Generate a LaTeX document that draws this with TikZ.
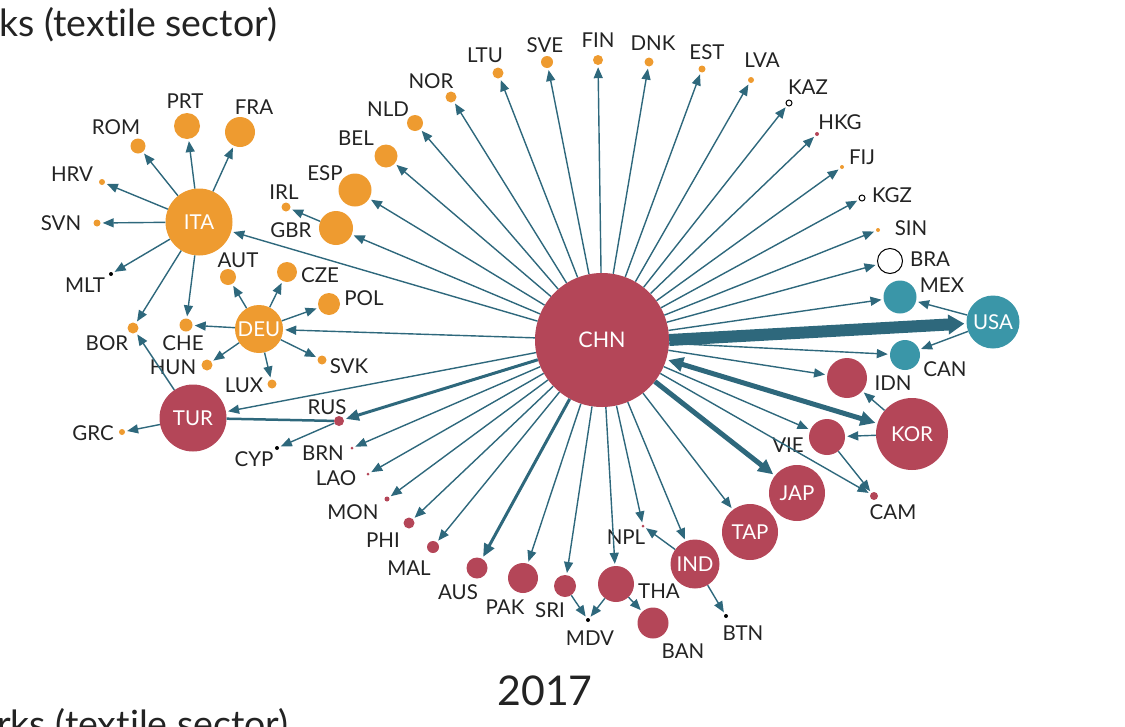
\documentclass[tikz,border=0pt]{standalone}
\usepackage{fontspec}
\setmainfont{Lato}[Ligatures=NoCommon]
\usetikzlibrary{arrows.meta}
\definecolor{orng}{RGB}{238,155,48}
\definecolor{rednode}{RGB}{180,70,88}
\definecolor{tealnode}{RGB}{58,150,168}
\definecolor{edgecol}{RGB}{46,104,124}
\definecolor{labcol}{RGB}{35,35,35}
\newcommand\labfont{\fontsize{20.5}{24}\selectfont}
\newcommand\cn[5]{\node[cnode,#2,minimum size=#4pt] (#1) at (#3) {#5};}
\newcommand\lb[2]{\node[lab] (l#1) at (#2) {#1};}
\tikzset{
  cnode/.style={circle,inner sep=0pt,draw=none,text=white,font=\labfont},
  orn/.style={fill=orng},
  red/.style={fill=rednode},
  tl/.style={fill=tealnode},
  blk/.style={fill=black},
  opn/.style={draw=black,line width=1pt,fill=white},
  lab/.style={font=\labfont,text=labcol,inner sep=0pt},
  edge/.style={draw=edgecol,line width=1.4pt,-{Triangle[length=11pt,width=9pt]},shorten >=2pt},
  thk/.style={draw=edgecol,line width=5pt,-{Triangle[length=15pt,width=14pt]},shorten >=2pt},
  mid/.style={draw=edgecol,line width=3pt,-{Triangle[length=13pt,width=11pt]},shorten >=2pt},
}
\begin{document}
\begin{tikzpicture}[x=1pt,y=-1pt]
\useasboundingbox (0,0) rectangle (1125,726);
\clip (0,0) rectangle (1125,726);
% titles
\node[font=\fontsize{37.5}{42}\selectfont,text=labcol,anchor=base west,inner sep=0pt] (title) at (-1,36) {ks (textile sector)};
\node[font=\fontsize{37.5}{42}\selectfont,text=labcol,anchor=base west,inner sep=0pt] (title2) at (-3,737) {rks (textile sector)};
\node[font=\fontsize{41}{46}\selectfont,text=labcol,inner sep=0pt] (year) at (545,691) {2017};
% big nodes
\cn{CHN}{red}{602,340}{134}{\fontsize{21.5}{24}\selectfont CHN}
\cn{ITA}{orn}{199,222}{67}{ITA}
\cn{DEU}{orn}{259,329}{48}{DEU}
\cn{TUR}{red}{193,418}{67}{TUR}
\cn{USA}{tl}{993,322}{53}{USA}
\cn{KOR}{red}{912,434}{72}{KOR}
\cn{JAP}{red}{797,493}{56}{JAP}
\cn{TAP}{red}{750,532}{56}{TAP}
\cn{IND}{red}{695,564}{49}{IND}
% small nodes
\cn{PRT}{orn}{187,126}{26}{}
\cn{FRA}{orn}{240,132}{30}{}
\cn{ROM}{orn}{138,146}{15}{}
\cn{HRV}{orn}{102,182}{6}{}
\cn{SVN}{orn}{97,223}{7}{}
\cn{MLT}{blk}{111,274}{4}{}
\cn{BOR}{orn}{133,328}{11}{}
\cn{CHE}{orn}{186,325}{13}{}
\cn{HUN}{orn}{207,365}{11}{}
\cn{LUX}{orn}{272,384}{9}{}
\cn{SVK}{orn}{322,360}{9}{}
\cn{AUT}{orn}{228,277}{16}{}
\cn{CZE}{orn}{287,272}{20}{}
\cn{POL}{orn}{329,304}{22}{}
\cn{GRC}{orn}{122,432}{6}{}
\cn{RUS}{red}{339,421}{10}{}
\cn{CYP}{blk}{277,448}{4}{}
\cn{BRN}{red}{352,448}{3}{}
\cn{LAO}{red}{368,474}{3}{}
\cn{MON}{red}{387,499}{5}{}
\cn{PHI}{red}{409,523}{11}{}
\cn{MAL}{red}{433,547}{12}{}
\cn{AUS}{red}{477,568}{21}{}
\cn{PAK}{red}{523,578}{30}{}
\cn{SRI}{red}{565,586}{22}{}
\cn{THA}{red}{616,584}{36}{}
\cn{MDV}{blk}{588,620}{4}{}
\cn{BAN}{red}{653,623}{31}{}
\cn{NPL}{red}{643,526}{3}{}
\cn{BTN}{blk}{726,616}{4}{}
\cn{CAN}{tl}{905,355}{30}{}
\cn{IDN}{red}{847,378}{40}{}
\cn{VIE}{red}{827,437}{36}{}
\cn{CAM}{red}{874,496}{8}{}
\cn{MEX}{tl}{900,297}{33}{}
\cn{BRA}{opn}{890,261}{25}{}
\cn{SIN}{orn}{878,230}{4}{}
\cn{KGZ}{opn}{862,198}{6}{}
\cn{FIJ}{orn}{842,167}{4}{}
\cn{HKG}{red}{817,134}{4}{}
\cn{KAZ}{opn}{789,103}{6}{}
\cn{LVA}{orn}{751,80}{6}{}
\cn{EST}{orn}{702,69}{7}{}
\cn{DNK}{orn}{649,62}{9}{}
\cn{FIN}{orn}{598,60}{10}{}
\cn{SVE}{orn}{547,62}{12}{}
\cn{LTU}{orn}{498,73}{11}{}
\cn{NOR}{orn}{451,97}{11}{}
\cn{NLD}{orn}{415,123}{16}{}
\cn{BEL}{orn}{386,156}{23}{}
\cn{ESP}{orn}{355,190}{33}{}
\cn{IRL}{orn}{286,207}{9}{}
\cn{GBR}{orn}{336,228}{34}{}
% labels
\lb{PRT}{185,101} \lb{FRA}{254,107} \lb{ROM}{116,127} \lb{HRV}{72,174}
\lb{SVN}{61,223} \lb{MLT}{85,285} \lb{BOR}{107,343} \lb{CHE}{183,343}
\lb{HUN}{173,367} \lb{LUX}{244,385} \lb{SVK}{349,366} \lb{AUT}{238,260}
\lb{CZE}{320,275} \lb{POL}{364,298} \lb{GRC}{93,433} \lb{RUS}{327,407}
\lb{CYP}{254,459} \lb{BRN}{323,453} \lb{LAO}{336,478} \lb{MON}{353,512}
\lb{PHI}{383,540} \lb{MAL}{409,568} \lb{AUS}{458,592} \lb{PAK}{505,607}
\lb{SRI}{550,610} \lb{MDV}{590,638} \lb{THA}{659,591} \lb{BAN}{683,651}
\lb{NPL}{626,537} \lb{BTN}{743,633} \lb{IDN}{893,383} \lb{CAN}{945,369}
\lb{VIE}{788,445} \lb{CAM}{893,512} \lb{MEX}{942,285} \lb{BRA}{930,259}
\lb{SIN}{911,228} \lb{KGZ}{892,195} \lb{FIJ}{862,157} \lb{HKG}{840,122}
\lb{KAZ}{808,87} \lb{LVA}{762,60} \lb{EST}{707,52} \lb{DNK}{653,43}
\lb{FIN}{598,40} \lb{SVE}{545,45} \lb{LTU}{485,55} \lb{NOR}{431,81}
\lb{NLD}{388,109} \lb{BEL}{356,138} \lb{ESP}{325,173} \lb{IRL}{284,192}
\lb{GBR}{291,230}
% edges from CHN
\foreach \t in {ITA,GBR,ESP,BEL,NLD,NOR,LTU,SVE,FIN,DNK,EST,LVA,KAZ,HKG,FIJ,KGZ,SIN,BRA,MEX,CAN,IDN,VIE,CAM,TAP,IND,NPL,THA,SRI,PAK,MAL,PHI,MON,LAO,BRN,TUR,DEU}
  {\draw[edge] (CHN) -- (\t);}
\draw[draw=edgecol,line width=12pt,-{Triangle[length=16pt,width=19pt]},shorten >=2pt] (CHN.east) -- (USA);
\draw[thk,{Triangle[length=15pt,width=14pt]}-{Triangle[length=15pt,width=14pt]},shorten <=2pt] (CHN) -- (KOR);
\draw[thk] (CHN) -- (JAP);
\draw[mid] (CHN) -- (AUS);
\draw[mid] (CHN) -- (RUS);
% other edges
\foreach \t in {PRT,FRA,ROM,HRV,SVN,MLT,BOR,CHE} {\draw[edge] (ITA) -- (\t);}
\foreach \t in {AUT,CZE,POL,SVK,LUX,HUN,CHE} {\draw[edge] (DEU) -- (\t);}
\draw[edge] (TUR) -- (BOR);
\draw[edge] (TUR) -- (GRC);
\draw[draw=edgecol,line width=2.5pt] (TUR) -- (RUS);
\draw[edge] (RUS) -- (CYP);
\draw[edge] (GBR) -- (IRL);
\draw[edge] (USA) -- (MEX);
\draw[edge] (USA) -- (CAN);
\draw[edge] (KOR) -- (IDN);
\draw[edge] (KOR) -- (VIE);
\draw[edge] (VIE) -- (CAM);
\draw[edge] (SRI) -- (MDV);
\draw[edge] (THA) -- (MDV);
\draw[edge] (THA) -- (BAN);
\draw[edge] (IND) -- (NPL);
\draw[edge] (IND) -- (BTN);
\end{tikzpicture}
\end{document}
